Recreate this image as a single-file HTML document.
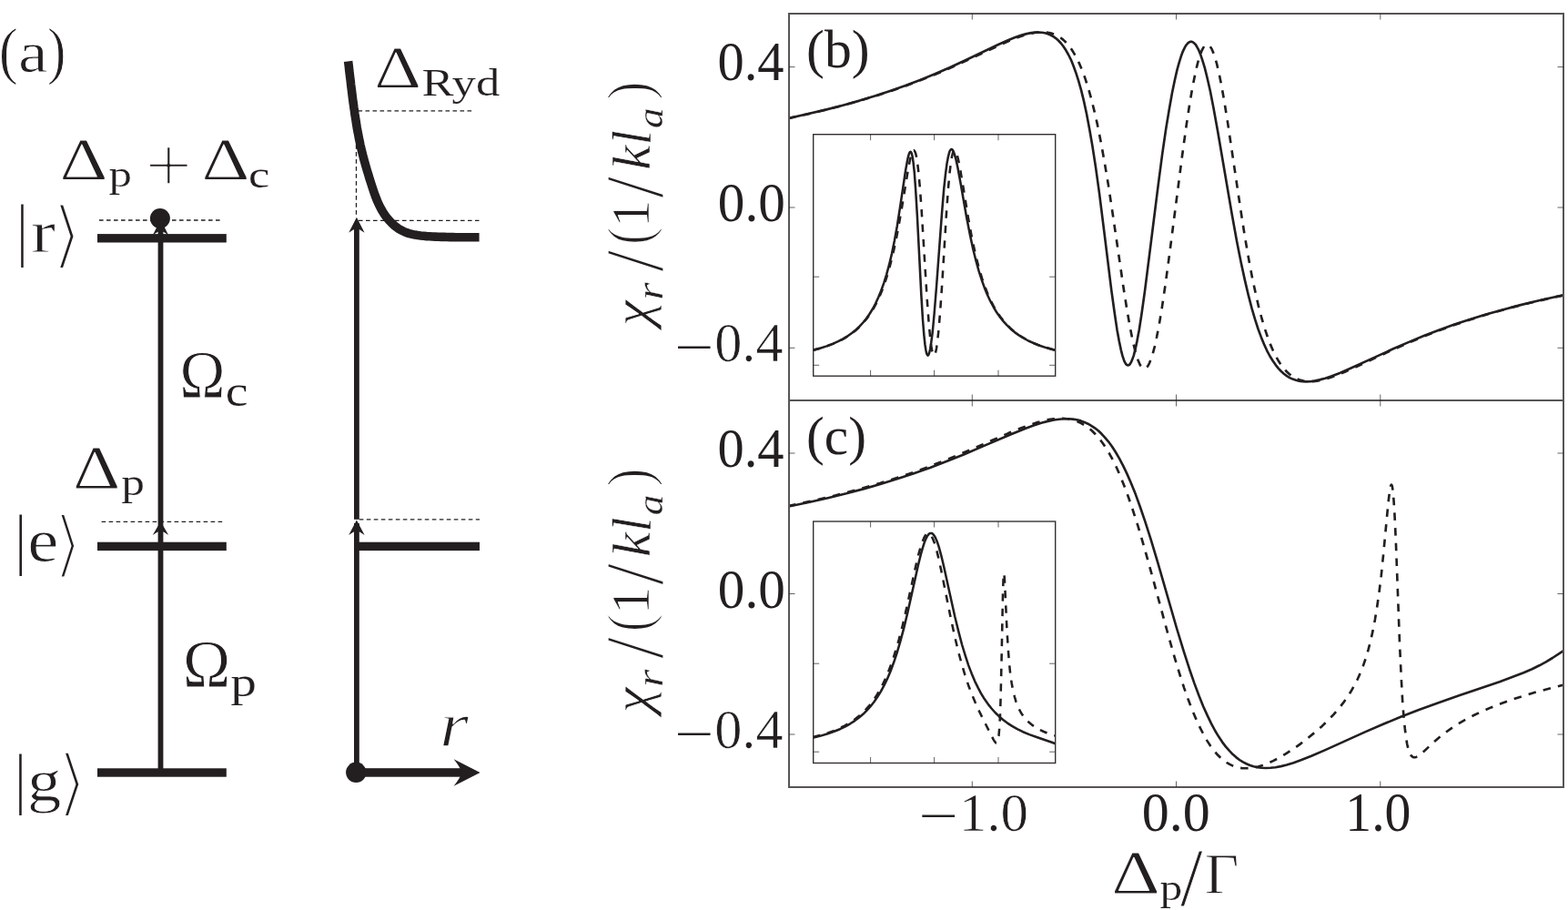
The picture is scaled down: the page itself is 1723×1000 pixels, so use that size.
<!DOCTYPE html>
<html lang="en"><head><meta charset="utf-8"><title>Figure</title>
<style>html,body{margin:0;padding:0;background:#fff;overflow:hidden}svg{display:block}text{white-space:pre}</style></head>
<body>
<svg width="1723" height="1000" viewBox="0 0 1723 1000">
<rect width="1723" height="1000" fill="#fff"/>
<defs><clipPath id="cb"><rect x="867" y="15" width="851" height="425"/></clipPath><clipPath id="cc"><rect x="867" y="440" width="851" height="425"/></clipPath><clipPath id="ib"><rect x="893.7" y="147.7" width="266" height="265.5"/></clipPath><clipPath id="ic"><rect x="893.7" y="573" width="266" height="265.5"/></clipPath></defs>
<g font-family="'Liberation Serif', serif" font-size="100" fill="#231f20">
<g><text transform="matrix(0.6334 0 0 0.7066 -1.28 79.46)" stroke="#fff" stroke-width="1.35" stroke-linejoin="round">(</text><text transform="matrix(0.7335 0 0 0.6257 19.95 78.99)" stroke="#fff" stroke-width="1.33" stroke-linejoin="round">a</text><text transform="matrix(0.6151 0 0 0.7068 51.88 79.46)" stroke="#fff" stroke-width="1.36" stroke-linejoin="round">)</text></g>
<g><text transform="matrix(0.8236 0 0 0.6588 65.42 196.74)" stroke="#fff" stroke-width="1.49" stroke-linejoin="round">Δ</text><text transform="matrix(0.5097 0 0 0.4077 119.40 205.18)" stroke="#fff" stroke-width="0.44" stroke-linejoin="round">p</text><text transform="matrix(0.9234 0 0 0.8949 159.16 211.13)" stroke="#fff" stroke-width="2.64" stroke-linejoin="round">+</text><text transform="matrix(0.8236 0 0 0.6588 221.54 196.74)" stroke="#fff" stroke-width="1.49" stroke-linejoin="round">Δ</text><text transform="matrix(0.5259 0 0 0.4244 272.92 205.97)" stroke="#fff" stroke-width="0.42" stroke-linejoin="round">c</text></g>
<g><text transform="matrix(0.5200 0 0 0.7555 19.30 277.51)">|</text><text transform="matrix(0.8116 0 0 0.6520 34.12 276.65)" stroke="#fff" stroke-width="1.24" stroke-linejoin="round">r</text><text transform="matrix(0.8697 0 0 0.8137 56.48 284.90)" font-family="'DejaVu Sans', sans-serif" stroke="#fff" stroke-width="4.75" stroke-linejoin="round">⟩</text></g>
<g><text transform="matrix(0.5200 0 0 0.7445 17.60 617.24)">|</text><text transform="matrix(0.7690 0 0 0.6844 30.20 616.74)" stroke="#fff" stroke-width="1.24" stroke-linejoin="round">e</text><text transform="matrix(0.8328 0 0 0.8031 58.30 624.57)" font-family="'DejaVu Sans', sans-serif" stroke="#fff" stroke-width="4.89" stroke-linejoin="round">⟩</text></g>
<g><text transform="matrix(0.5200 0 0 0.7500 17.30 880.12)">|</text><text transform="matrix(0.7475 0 0 0.6646 30.10 879.89)" stroke="#fff" stroke-width="1.28" stroke-linejoin="round">g</text><text transform="matrix(0.8704 0 0 0.8079 62.21 887.47)" font-family="'DejaVu Sans', sans-serif" stroke="#fff" stroke-width="4.77" stroke-linejoin="round">⟩</text></g>
<g><text transform="matrix(0.8056 0 0 0.6590 411.37 95.50)" stroke="#fff" stroke-width="1.51" stroke-linejoin="round">Δ</text><text transform="matrix(0.5265 0 0 0.4212 463.57 104.78)" stroke="#fff" stroke-width="0.42" stroke-linejoin="round">Ryd</text></g>
<g><text transform="matrix(0.6776 0 0 0.7311 197.26 436.72)" stroke="#fff" stroke-width="1.28" stroke-linejoin="round">Ω</text><text transform="matrix(0.5591 0 0 0.4805 247.80 445.86)" stroke="#fff" stroke-width="0.39" stroke-linejoin="round">c</text></g>
<g><text transform="matrix(0.8141 0 0 0.6858 80.10 536.00)" stroke="#fff" stroke-width="1.47" stroke-linejoin="round">Δ</text><text transform="matrix(0.5142 0 0 0.4114 133.16 544.35)" stroke="#fff" stroke-width="0.43" stroke-linejoin="round">p</text></g>
<g><text transform="matrix(0.7091 0 0 0.7384 200.84 755.46)" stroke="#fff" stroke-width="1.24" stroke-linejoin="round">Ω</text><text transform="matrix(0.5735 0 0 0.4588 253.25 765.34)" stroke="#fff" stroke-width="0.39" stroke-linejoin="round">p</text></g>
<g><text transform="matrix(0.8235 0 0 0.6922 482.94 819.89)" font-style="italic" stroke="#fff" stroke-width="1.85" stroke-linejoin="round">r</text></g>
<g><text transform="matrix(0.5963 0 0 0.6000 886.07 74.45)">(b)</text></g>
<g><text transform="matrix(0.5946 0 0 0.6022 886.07 499.20)">(c)</text></g>
<g><text transform="matrix(0.5846 0 0 0.6154 788.41 87.83)">0.4</text></g>
<g><text transform="matrix(0.5923 0 0 0.6154 788.78 242.83)">0.0</text></g>
<g><text transform="matrix(0.7634 0 0 0.5200 740.93 398.79)">−</text><text transform="matrix(0.6033 0 0 0.6059 785.19 396.89)" stroke="#fff" stroke-width="0.99" stroke-linejoin="round">0.4</text></g>
<g><text transform="matrix(0.5846 0 0 0.6154 788.41 513.03)">0.4</text></g>
<g><text transform="matrix(0.5923 0 0 0.6154 788.78 668.03)">0.0</text></g>
<g><text transform="matrix(0.7634 0 0 0.5200 740.93 823.99)">−</text><text transform="matrix(0.6033 0 0 0.6059 785.19 822.09)" stroke="#fff" stroke-width="0.99" stroke-linejoin="round">0.4</text></g>
<g><text transform="matrix(0.7688 0 0 0.5200 1009.16 914.29)">−</text><text transform="matrix(0.6098 0 0 0.5970 1053.86 913.15)" stroke="#fff" stroke-width="0.99" stroke-linejoin="round">1.0</text></g>
<g><text transform="matrix(0.6000 0 0 0.6118 1254.75 912.88)">0.0</text></g>
<g><text transform="matrix(0.5778 0 0 0.6118 1478.24 912.88)">1.0</text></g>
<g><text transform="matrix(0.8330 0 0 0.6664 1221.36 980.99)" stroke="#fff" stroke-width="1.48" stroke-linejoin="round">Δ</text><text transform="matrix(0.4960 0 0 0.3968 1274.47 989.16)" stroke="#fff" stroke-width="0.45" stroke-linejoin="round">p</text><text transform="matrix(0.8879 0 0 0.9091 1297.06 994.55)" stroke="#fff" stroke-width="1.00" stroke-linejoin="round">/</text><text transform="matrix(0.6489 0 0 0.6242 1323.84 981.69)" stroke="#fff" stroke-width="1.41" stroke-linejoin="round">Γ</text></g>
<g><text transform="matrix(0 -0.6375 0.5959 0 713.52 358.31)" font-style="italic" stroke="#fff" stroke-width="1.30" stroke-linejoin="round">χ</text><text transform="matrix(0 -0.4974 0.3993 0 728.33 329.86)" font-style="italic" stroke="#fff" stroke-width="0.67" stroke-linejoin="round">r</text><text transform="matrix(0 -0.8528 0.9028 0 727.71 298.58)" stroke="#fff" stroke-width="1.37" stroke-linejoin="round">/</text><text transform="matrix(0 -0.5801 0.6797 0 714.31 269.01)" stroke="#fff" stroke-width="2.23" stroke-linejoin="round">(</text><text transform="matrix(0 -0.5914 0.6001 0 713.30 249.47)" stroke="#fff" stroke-width="1.01" stroke-linejoin="round">1</text><text transform="matrix(0 -0.8528 0.9028 0 727.71 217.58)" stroke="#fff" stroke-width="1.37" stroke-linejoin="round">/</text><text transform="matrix(0 -0.6083 0.6007 0 714.00 186.83)" font-style="italic" stroke="#fff" stroke-width="0.83" stroke-linejoin="round">k</text><text transform="matrix(0 -0.5771 0.6117 0 714.76 159.27)" font-style="italic" stroke="#fff" stroke-width="0.84" stroke-linejoin="round">l</text><text transform="matrix(0 -0.4537 0.3912 0 728.25 141.12)" font-style="italic" stroke="#fff" stroke-width="0.71" stroke-linejoin="round">a</text><text transform="matrix(0 -0.6050 0.6710 0 714.48 109.38)" stroke="#fff" stroke-width="2.20" stroke-linejoin="round">)</text></g>
<g><text transform="matrix(0 -0.6375 0.5959 0 713.52 783.51)" font-style="italic" stroke="#fff" stroke-width="1.30" stroke-linejoin="round">χ</text><text transform="matrix(0 -0.4974 0.3993 0 728.33 755.06)" font-style="italic" stroke="#fff" stroke-width="0.67" stroke-linejoin="round">r</text><text transform="matrix(0 -0.8528 0.9028 0 727.71 723.78)" stroke="#fff" stroke-width="1.37" stroke-linejoin="round">/</text><text transform="matrix(0 -0.5801 0.6797 0 714.31 694.21)" stroke="#fff" stroke-width="2.23" stroke-linejoin="round">(</text><text transform="matrix(0 -0.5914 0.6001 0 713.30 674.67)" stroke="#fff" stroke-width="1.01" stroke-linejoin="round">1</text><text transform="matrix(0 -0.8528 0.9028 0 727.71 642.78)" stroke="#fff" stroke-width="1.37" stroke-linejoin="round">/</text><text transform="matrix(0 -0.6083 0.6007 0 714.00 612.03)" font-style="italic" stroke="#fff" stroke-width="0.83" stroke-linejoin="round">k</text><text transform="matrix(0 -0.5771 0.6117 0 714.76 584.47)" font-style="italic" stroke="#fff" stroke-width="0.84" stroke-linejoin="round">l</text><text transform="matrix(0 -0.4537 0.3912 0 728.25 566.32)" font-style="italic" stroke="#fff" stroke-width="0.71" stroke-linejoin="round">a</text><text transform="matrix(0 -0.6050 0.6710 0 714.48 534.58)" stroke="#fff" stroke-width="2.20" stroke-linejoin="round">)</text></g>
</g>
<rect x="107" y="257.10" width="141.80" height="9.4" fill="#231f20"/>
<rect x="107" y="595.70" width="141.80" height="9.4" fill="#231f20"/>
<rect x="107" y="844.30" width="141.80" height="9.4" fill="#231f20"/>
<rect x="173.60" y="245" width="5.8" height="604.00" fill="#231f20"/>
<path d="M176.5,241 L185.2,258.6 Q180.415,254.85000000000002 176.5,253.60000000000002 Q172.585,254.85000000000002 167.8,258.6 Z" fill="#231f20"/>
<path d="M176.5,572.9 L185.2,587.9 Q180.415,584.15 176.5,582.9 Q172.585,584.15 167.8,587.9 Z" fill="#231f20"/>
<circle cx="175.9" cy="240" r="11" fill="#231f20"/>
<line x1="109" y1="242.0" x2="243.5" y2="242.0" stroke="#231f20" stroke-width="1.3" stroke-dasharray="4.6 3.4"/>
<line x1="111.6" y1="573.4" x2="246.5" y2="573.4" stroke="#231f20" stroke-width="1.3" stroke-dasharray="4.6 3.4"/>
<rect x="392" y="595.70" width="135.00" height="9.4" fill="#231f20"/>
<rect x="389.00" y="245" width="5.8" height="325.80" fill="#231f20"/>
<rect x="389.00" y="575" width="5.8" height="274.00" fill="#231f20"/>
<path d="M391.9,238.7 L400.59999999999997,255.8 Q395.815,252.05 391.9,250.8 Q387.98499999999996,252.05 383.2,255.8 Z" fill="#231f20"/>
<path d="M391.9,571.4 L400.59999999999997,587.9 Q395.815,584.15 391.9,582.9 Q387.98499999999996,584.15 383.2,587.9 Z" fill="#231f20"/>
<circle cx="391.3" cy="848.8" r="11.2" fill="#231f20"/>
<rect x="391" y="844.2" width="118" height="9.5" fill="#231f20"/>
<path d="M527.6,849 L498.6,834.3 Q505,842 507.6,849 Q505,856 498.6,863.7 Z" fill="#231f20"/>
<line x1="393.5" y1="121.9" x2="521" y2="121.9" stroke="#231f20" stroke-width="1.3" stroke-dasharray="4.6 3.4"/>
<line x1="394" y1="242.3" x2="526.5" y2="242.3" stroke="#231f20" stroke-width="1.3" stroke-dasharray="4.6 3.4"/>
<line x1="394.8" y1="570.9" x2="527" y2="570.9" stroke="#231f20" stroke-width="1.3" stroke-dasharray="4.6 3.4"/>
<line x1="391.5" y1="159" x2="391.5" y2="238" stroke="#231f20" stroke-width="1.3" stroke-dasharray="4.8 3.2"/>
<path d="M382.6,67.3 L383.0,70.5 L383.4,73.7 L383.7,76.9 L384.1,80.1 L384.5,83.3 L384.9,86.5 L385.3,89.7 L385.6,92.8 L386.0,96.0 L386.4,99.2 L386.8,102.4 L387.2,105.6 L387.6,108.8 L388.0,112.0 L388.5,115.2 L388.9,118.4 L389.4,121.5 L389.8,124.7 L390.3,127.9 L390.8,131.1 L391.3,134.3 L391.8,137.4 L392.3,140.6 L392.9,143.8 L393.5,146.9 L394.1,150.1 L394.7,153.3 L395.4,156.4 L396.0,159.6 L396.8,162.7 L397.5,165.8 L398.3,168.9 L399.1,172.1 L399.9,175.2 L400.8,178.3 L401.6,181.4 L402.5,184.4 L403.4,187.5 L404.4,190.6 L405.3,193.7 L406.2,196.8 L407.2,199.8 L408.2,202.9 L409.2,206.0 L410.2,209.0 L411.2,212.0 L412.3,215.1 L413.5,218.1 L414.7,221.1 L416.0,224.0 L417.4,226.9 L418.9,229.8 L420.5,232.5 L422.2,235.2 L424.1,237.9 L426.1,240.4 L428.2,242.8 L430.5,245.2 L432.9,247.4 L435.4,249.4 L438.0,251.3 L440.7,252.9 L443.6,254.3 L446.6,255.6 L449.7,256.6 L452.8,257.4 L456.0,258.1 L459.1,258.6 L462.3,259.0 L465.5,259.3 L468.7,259.6 L472.0,259.8 L475.2,260.0 L478.4,260.1 L481.6,260.2 L484.8,260.4 L488.0,260.4 L491.2,260.5 L494.4,260.6 L497.7,260.6 L500.9,260.7 L504.1,260.7 L507.3,260.8 L510.5,260.8 L513.7,260.8 L517.0,260.8 L520.2,260.8 L523.4,260.8 L526.6,260.8" fill="none" stroke="#231f20" stroke-width="9.6" stroke-linejoin="round"/>
<path d="M866.0,130.0 L887.2,125.3 L907.2,120.6 L926.2,115.7 L944.5,110.6 L962.0,105.2 L978.8,99.7 L995.0,94.0 L1011.0,87.9 L1026.8,81.5 L1043.0,74.5 L1060.8,66.3 L1097.5,48.8 L1108.2,44.0 L1116.2,40.8 L1122.8,38.6 L1128.2,37.1 L1133.2,36.1 L1137.5,35.6 L1141.5,35.5 L1145.0,35.7 L1148.2,36.3 L1151.5,37.2 L1154.5,38.5 L1157.5,40.2 L1160.2,42.1 L1163.0,44.5 L1165.8,47.5 L1168.5,51.0 L1171.2,55.1 L1174.0,60.0 L1176.8,65.6 L1179.5,72.2 L1182.2,79.7 L1185.0,88.3 L1188.0,98.9 L1191.0,111.1 L1194.0,125.0 L1197.2,141.9 L1200.5,160.9 L1204.0,183.6 L1208.0,212.4 L1213.2,253.6 L1221.2,318.3 L1224.8,344.3 L1227.5,362.4 L1229.8,375.1 L1231.8,384.6 L1233.5,391.2 L1235.0,395.7 L1236.2,398.4 L1237.2,400.0 L1238.0,400.8 L1238.8,401.3 L1239.5,401.4 L1240.2,401.3 L1241.0,400.8 L1242.0,399.6 L1243.0,397.9 L1244.2,395.1 L1245.8,390.6 L1247.5,383.9 L1249.5,374.6 L1251.8,362.2 L1254.5,344.8 L1258.0,319.9 L1263.2,278.9 L1272.5,204.8 L1277.2,169.2 L1281.2,141.7 L1284.8,120.0 L1288.0,101.9 L1290.8,88.4 L1293.5,76.6 L1295.8,68.3 L1298.0,61.3 L1300.0,56.1 L1301.8,52.4 L1303.2,49.9 L1304.8,48.0 L1306.0,46.8 L1307.2,46.1 L1308.5,45.8 L1309.8,45.9 L1311.0,46.4 L1312.2,47.4 L1313.8,49.0 L1315.2,51.3 L1317.0,54.6 L1319.0,59.4 L1321.2,65.9 L1323.8,74.4 L1326.5,85.2 L1329.8,99.8 L1333.5,118.7 L1338.2,144.8 L1353.5,234.3 L1359.0,264.7 L1363.5,287.6 L1367.8,307.4 L1371.8,324.4 L1375.5,338.7 L1379.0,350.7 L1382.5,361.5 L1385.8,370.4 L1389.0,378.3 L1392.2,385.3 L1395.5,391.5 L1398.8,396.8 L1401.8,401.1 L1404.8,404.8 L1407.8,408.0 L1410.8,410.7 L1414.0,413.1 L1417.2,415.1 L1420.5,416.6 L1424.0,417.8 L1427.5,418.7 L1431.2,419.2 L1435.2,419.4 L1439.8,419.2 L1444.5,418.6 L1450.0,417.4 L1456.2,415.7 L1463.5,413.3 L1472.2,409.9 L1484.0,404.8 L1508.5,393.6 L1531.0,383.3 L1548.8,375.6 L1565.2,368.8 L1581.8,362.5 L1598.2,356.6 L1615.2,351.0 L1632.8,345.6 L1651.0,340.4 L1670.0,335.4 L1690.0,330.5 L1711.2,325.8 L1719.0,324.2" fill="none" stroke="#231f20" stroke-width="2.65" stroke-linejoin="round" clip-path="url(#cb)"/>
<path d="M866.0,130.1 L887.5,125.4 L907.8,120.6 L927.0,115.7 L945.2,110.6 L962.8,105.3 L979.8,99.7 L996.2,93.9 L1012.5,87.8 L1028.8,81.3 L1045.5,74.1 L1064.2,65.6 L1098.8,49.4 L1110.0,44.5 L1118.5,41.1 L1125.5,38.7 L1131.5,37.1 L1136.8,36.0 L1141.2,35.4 L1145.5,35.2 L1149.2,35.4 L1152.8,36.0 L1156.2,36.9 L1159.5,38.1 L1162.5,39.6 L1165.5,41.5 L1168.5,43.9 L1171.5,46.8 L1174.5,50.2 L1177.5,54.3 L1180.5,59.1 L1183.5,64.6 L1186.5,70.9 L1189.5,78.2 L1192.5,86.4 L1195.8,96.6 L1199.0,108.0 L1202.2,120.9 L1205.8,136.4 L1209.5,155.0 L1213.5,177.0 L1217.8,202.6 L1223.0,237.0 L1234.5,315.8 L1238.5,341.2 L1241.8,359.8 L1244.5,373.6 L1246.8,383.3 L1248.8,390.5 L1250.5,395.7 L1252.0,399.3 L1253.2,401.7 L1254.5,403.4 L1255.5,404.4 L1256.5,405.0 L1257.5,405.1 L1258.5,404.9 L1259.5,404.3 L1260.5,403.3 L1261.8,401.5 L1263.2,398.6 L1265.0,394.1 L1266.8,388.5 L1268.8,380.8 L1271.0,370.7 L1273.8,356.3 L1276.8,338.4 L1280.5,313.3 L1285.2,278.5 L1299.0,171.5 L1303.5,138.8 L1307.0,115.7 L1310.0,97.9 L1312.8,83.7 L1315.0,73.6 L1317.0,65.9 L1318.8,60.4 L1320.5,55.8 L1322.0,52.9 L1323.2,51.0 L1324.2,50.0 L1325.2,49.3 L1326.2,49.0 L1327.2,49.2 L1328.2,49.6 L1329.2,50.5 L1330.5,52.2 L1331.8,54.4 L1333.2,57.8 L1335.0,62.8 L1337.0,69.8 L1339.2,79.2 L1342.0,92.6 L1345.2,110.7 L1349.2,135.6 L1356.2,182.9 L1363.5,231.9 L1368.2,261.8 L1372.5,286.4 L1376.2,306.1 L1379.8,322.7 L1383.2,337.7 L1386.5,350.0 L1389.8,361.0 L1393.0,370.7 L1396.0,378.6 L1399.0,385.5 L1402.0,391.6 L1405.0,396.8 L1408.0,401.4 L1411.0,405.2 L1414.0,408.5 L1417.0,411.2 L1420.0,413.5 L1423.0,415.3 L1426.2,416.8 L1429.5,417.9 L1433.0,418.7 L1436.8,419.1 L1440.8,419.2 L1445.0,418.9 L1449.8,418.1 L1455.2,416.9 L1461.5,415.0 L1469.0,412.3 L1478.2,408.5 L1491.5,402.5 L1527.5,385.7 L1545.2,377.8 L1561.8,370.8 L1577.8,364.5 L1594.0,358.5 L1610.5,352.9 L1627.8,347.4 L1645.5,342.2 L1664.0,337.1 L1683.5,332.3 L1704.0,327.5 L1719.0,324.3" fill="none" stroke="#231f20" stroke-width="2.65" stroke-linejoin="round" stroke-dasharray="8.5 8.2" stroke-dashoffset="0" clip-path="url(#cb)"/>
<path d="M866.0,556.7 L888.5,552.0 L909.8,547.2 L930.0,542.3 L949.5,537.1 L968.2,531.7 L986.5,526.1 L1004.2,520.2 L1022.0,513.9 L1040.0,507.0 L1059.0,499.4 L1082.5,489.4 L1112.2,476.7 L1125.8,471.2 L1135.8,467.6 L1144.2,464.8 L1151.5,462.9 L1158.0,461.5 L1163.8,460.7 L1169.0,460.2 L1174.0,460.2 L1178.8,460.6 L1183.2,461.3 L1187.5,462.4 L1191.5,463.9 L1195.5,465.7 L1199.2,467.8 L1203.0,470.3 L1206.8,473.3 L1210.5,476.8 L1214.2,480.8 L1218.0,485.3 L1222.0,490.8 L1226.0,497.0 L1230.0,503.9 L1234.2,511.9 L1238.5,520.9 L1243.0,531.2 L1247.8,543.1 L1253.0,557.5 L1258.5,573.6 L1264.8,593.3 L1272.5,619.1 L1293.2,691.0 L1300.8,715.8 L1307.0,735.2 L1312.5,751.1 L1317.5,764.5 L1322.2,776.2 L1326.8,786.4 L1331.0,795.1 L1335.2,803.0 L1339.2,809.6 L1343.2,815.6 L1347.0,820.6 L1350.8,824.9 L1354.5,828.8 L1358.2,832.1 L1362.0,835.0 L1365.8,837.4 L1369.5,839.3 L1373.5,841.0 L1377.5,842.3 L1381.8,843.2 L1386.2,843.8 L1391.0,844.0 L1396.0,843.8 L1401.5,843.2 L1407.5,842.1 L1414.0,840.5 L1421.5,838.2 L1430.2,835.1 L1441.0,830.8 L1455.8,824.4 L1500.0,804.4 L1520.5,795.5 L1539.8,787.6 L1559.2,780.0 L1580.0,772.4 L1604.8,763.8 L1647.8,749.2 L1663.0,743.6 L1674.2,739.2 L1683.5,735.2 L1691.5,731.3 L1698.8,727.4 L1706.0,723.0 L1718.0,715.2 L1719.0,714.6" fill="none" stroke="#231f20" stroke-width="2.65" stroke-linejoin="round" clip-path="url(#cc)"/>
<path d="M866.0,556.1 L888.2,551.4 L909.2,546.6 L929.2,541.6 L948.5,536.4 L967.0,531.0 L985.0,525.3 L1002.5,519.4 L1019.8,513.2 L1037.2,506.4 L1056.0,498.7 L1079.2,488.7 L1108.0,476.1 L1121.0,470.8 L1130.8,467.1 L1139.0,464.4 L1146.0,462.5 L1152.2,461.1 L1158.0,460.3 L1163.2,459.9 L1168.0,459.9 L1172.5,460.3 L1176.8,461.0 L1180.8,462.1 L1184.8,463.6 L1188.5,465.3 L1192.2,467.5 L1196.0,470.2 L1199.8,473.3 L1203.5,477.0 L1207.2,481.2 L1211.0,486.0 L1214.8,491.5 L1218.8,498.1 L1222.8,505.4 L1226.8,513.5 L1231.0,523.1 L1235.5,534.2 L1240.2,547.0 L1245.2,561.7 L1250.8,579.1 L1257.0,600.2 L1265.0,628.9 L1282.8,694.5 L1290.0,720.1 L1296.0,739.9 L1301.2,756.1 L1306.0,769.6 L1310.5,781.3 L1314.8,791.3 L1318.8,799.9 L1322.8,807.6 L1326.5,814.1 L1330.2,819.8 L1333.8,824.6 L1337.2,828.7 L1340.8,832.3 L1344.2,835.3 L1347.8,837.9 L1351.2,839.9 L1354.8,841.6 L1358.2,842.8 L1361.8,843.7 L1365.5,844.2 L1369.5,844.3 L1373.5,844.1 L1377.8,843.5 L1382.5,842.5 L1387.5,840.9 L1393.0,838.8 L1399.0,836.1 L1405.5,832.7 L1412.8,828.4 L1420.5,823.4 L1428.8,817.6 L1437.2,811.1 L1445.2,804.5 L1452.8,797.9 L1459.5,791.4 L1465.5,785.1 L1471.0,778.7 L1476.0,772.4 L1480.5,766.1 L1484.5,759.8 L1488.2,753.2 L1491.8,746.3 L1495.0,739.0 L1498.0,731.4 L1500.8,723.4 L1503.5,714.2 L1506.0,704.6 L1508.5,693.4 L1511.0,680.4 L1513.2,666.7 L1515.5,650.8 L1517.8,632.2 L1520.2,608.4 L1525.5,552.4 L1526.8,541.7 L1527.5,536.8 L1528.0,534.5 L1528.5,533.1 L1528.8,532.8 L1529.0,532.7 L1529.2,532.9 L1529.5,533.4 L1530.0,535.4 L1530.8,540.9 L1531.5,549.6 L1532.5,566.0 L1533.8,593.4 L1538.0,706.7 L1539.8,745.3 L1541.2,771.1 L1542.5,787.8 L1543.8,800.7 L1545.0,810.4 L1546.2,817.7 L1547.5,823.0 L1548.5,826.1 L1549.5,828.4 L1550.5,830.1 L1551.5,831.2 L1552.5,831.9 L1553.5,832.2 L1554.8,832.3 L1556.2,831.9 L1558.0,831.1 L1560.5,829.3 L1564.2,826.1 L1575.8,815.3 L1582.2,809.8 L1588.8,804.7 L1595.5,799.9 L1602.8,795.2 L1610.5,790.7 L1619.0,786.3 L1628.2,781.8 L1638.5,777.4 L1649.8,773.0 L1662.0,768.6 L1675.5,764.2 L1690.2,759.9 L1706.2,755.6 L1719.0,752.4" fill="none" stroke="#231f20" stroke-width="2.65" stroke-linejoin="round" stroke-dasharray="8.5 8.2" stroke-dashoffset="0" clip-path="url(#cc)"/>
<path d="M893.0,384.9 L901.1,382.7 L908.4,380.4 L915.0,377.9 L921.0,375.2 L926.5,372.3 L931.5,369.3 L936.1,366.0 L940.5,362.4 L944.5,358.7 L948.4,354.5 L952.0,350.0 L955.5,345.0 L958.9,339.5 L962.1,333.5 L965.2,326.8 L968.2,319.5 L971.2,311.1 L974.1,301.8 L977.0,291.2 L979.9,279.1 L982.8,265.1 L985.8,248.5 L989.1,227.4 L995.1,187.2 L996.9,177.2 L998.1,171.6 L999.0,168.8 L999.6,167.4 L1000.1,166.9 L1000.5,166.8 L1000.9,167.0 L1001.4,167.7 L1002.0,169.4 L1002.8,172.8 L1003.6,178.7 L1004.8,189.6 L1006.1,207.7 L1007.9,237.4 L1012.4,325.1 L1014.0,351.3 L1015.4,368.6 L1016.5,379.0 L1017.4,384.7 L1018.1,388.1 L1018.8,389.8 L1019.2,390.4 L1019.6,390.6 L1020.0,390.4 L1020.5,389.6 L1021.2,387.5 L1022.1,383.7 L1023.2,376.8 L1024.8,364.5 L1026.6,345.0 L1029.1,314.0 L1035.0,234.3 L1037.2,207.9 L1039.0,191.1 L1040.5,179.8 L1041.8,172.8 L1042.8,168.7 L1043.6,166.1 L1044.4,164.8 L1045.0,164.2 L1045.5,164.0 L1046.1,164.2 L1046.9,165.0 L1047.8,166.6 L1048.9,169.6 L1050.4,175.0 L1052.4,184.2 L1055.5,201.0 L1062.2,239.3 L1065.9,258.0 L1069.2,273.5 L1072.5,286.7 L1075.6,297.9 L1078.8,307.7 L1081.9,316.4 L1085.1,324.3 L1088.4,331.2 L1091.8,337.5 L1095.2,343.3 L1098.9,348.5 L1102.6,353.2 L1106.5,357.4 L1110.6,361.4 L1115.0,365.1 L1119.6,368.4 L1124.6,371.5 L1130.0,374.5 L1135.9,377.2 L1142.4,379.7 L1149.5,382.1 L1157.5,384.3 L1160.5,385.1" fill="none" stroke="#231f20" stroke-width="2.55" stroke-linejoin="round" clip-path="url(#ib)"/>
<path d="M893.0,384.9 L901.2,382.8 L908.6,380.4 L915.2,377.9 L921.2,375.2 L926.8,372.4 L931.8,369.3 L936.5,366.0 L940.9,362.5 L945.0,358.6 L948.9,354.5 L952.6,349.9 L956.1,345.0 L959.5,339.6 L962.8,333.7 L966.0,327.0 L969.1,319.6 L972.2,311.1 L975.2,301.8 L978.2,291.2 L981.2,279.1 L984.4,264.8 L987.6,247.9 L991.5,225.3 L997.4,189.3 L999.5,178.0 L1001.0,171.5 L1002.1,168.0 L1003.0,166.2 L1003.6,165.5 L1004.1,165.3 L1004.6,165.5 L1005.2,166.3 L1006.0,168.1 L1006.9,171.5 L1007.9,177.2 L1009.1,187.2 L1010.6,203.1 L1012.5,228.4 L1015.6,278.9 L1018.6,327.4 L1020.5,353.0 L1022.0,369.3 L1023.2,379.6 L1024.2,385.4 L1025.0,388.4 L1025.6,389.9 L1026.1,390.5 L1026.5,390.5 L1026.9,390.3 L1027.4,389.5 L1028.1,387.2 L1029.0,383.0 L1030.1,375.2 L1031.5,362.3 L1033.1,342.6 L1035.4,309.4 L1040.1,232.4 L1042.0,206.6 L1043.5,190.0 L1044.8,179.4 L1045.9,172.5 L1046.8,168.7 L1047.5,166.6 L1048.1,165.6 L1048.6,165.2 L1049.1,165.3 L1049.8,165.8 L1050.5,167.0 L1051.5,169.7 L1052.9,174.9 L1054.8,184.1 L1057.8,201.6 L1063.6,237.4 L1067.1,256.7 L1070.2,271.9 L1073.2,284.8 L1076.2,296.2 L1079.2,306.2 L1082.2,314.9 L1085.4,322.9 L1088.5,329.9 L1091.8,336.3 L1095.1,342.0 L1098.6,347.3 L1102.2,352.1 L1106.0,356.4 L1110.0,360.4 L1114.2,364.1 L1118.8,367.5 L1123.6,370.7 L1128.9,373.7 L1134.6,376.5 L1140.9,379.1 L1147.9,381.5 L1155.6,383.8 L1160.5,385.0" fill="none" stroke="#231f20" stroke-width="2.55" stroke-linejoin="round" stroke-dasharray="8.3 8.2" stroke-dashoffset="0" clip-path="url(#ib)"/>
<path d="M893.0,810.7 L901.8,808.6 L909.6,806.2 L916.6,803.8 L923.0,801.2 L928.9,798.3 L934.2,795.3 L939.2,792.1 L944.0,788.5 L948.4,784.8 L952.6,780.6 L956.6,776.2 L960.5,771.3 L964.2,765.9 L967.9,759.9 L971.5,753.2 L975.0,745.9 L978.5,737.7 L982.0,728.3 L985.5,717.9 L989.1,705.7 L993.0,691.2 L997.2,673.6 L1003.5,645.5 L1009.0,620.7 L1012.0,608.6 L1014.4,600.3 L1016.2,594.9 L1017.9,591.1 L1019.2,588.7 L1020.5,587.1 L1021.5,586.3 L1022.5,585.9 L1023.4,585.9 L1024.4,586.3 L1025.5,587.2 L1026.8,588.9 L1028.1,591.4 L1029.8,595.3 L1031.8,601.3 L1034.1,609.8 L1037.2,622.7 L1043.6,651.9 L1049.2,677.3 L1053.4,694.4 L1057.1,708.5 L1060.8,720.6 L1064.2,731.1 L1067.8,740.4 L1071.2,748.6 L1074.8,755.9 L1078.2,762.3 L1081.9,768.3 L1085.6,773.6 L1089.5,778.5 L1093.5,783.0 L1097.8,787.2 L1102.2,791.0 L1107.0,794.6 L1112.1,797.9 L1117.8,801.1 L1124.0,804.2 L1131.0,807.1 L1139.8,810.3 L1155.8,815.8 L1160.5,817.7" fill="none" stroke="#231f20" stroke-width="2.55" stroke-linejoin="round" clip-path="url(#ic)"/>
<path d="M893.0,810.1 L901.5,808.0 L909.1,805.6 L916.0,803.2 L922.2,800.5 L928.0,797.6 L933.4,794.5 L938.4,791.2 L943.0,787.6 L947.4,783.8 L951.5,779.6 L955.5,775.0 L959.4,770.0 L963.1,764.4 L966.8,758.3 L970.2,751.6 L973.8,744.1 L977.2,735.5 L980.8,725.9 L984.2,715.0 L987.9,702.4 L991.8,687.4 L996.1,668.6 L1006.4,621.5 L1009.5,608.6 L1011.9,600.1 L1013.8,594.7 L1015.4,590.9 L1016.8,588.5 L1017.9,587.2 L1018.9,586.5 L1019.8,586.2 L1020.6,586.3 L1021.5,586.8 L1022.5,587.7 L1023.8,589.5 L1025.1,592.3 L1026.8,596.5 L1028.8,603.0 L1031.1,612.4 L1034.2,626.6 L1045.1,681.0 L1049.4,700.6 L1053.1,716.2 L1056.8,729.7 L1060.4,741.9 L1064.0,752.7 L1067.8,762.7 L1071.8,772.3 L1076.4,782.4 L1083.8,797.2 L1091.6,812.6 L1093.2,815.2 L1094.1,816.2 L1094.8,816.5 L1095.2,816.5 L1095.8,816.0 L1096.2,814.9 L1096.9,812.5 L1097.5,808.4 L1098.1,801.5 L1098.9,788.1 L1099.6,766.7 L1100.6,722.8 L1102.0,652.9 L1102.5,637.2 L1102.9,631.3 L1103.0,630.4 L1103.1,630.1 L1103.2,630.2 L1103.5,631.7 L1104.0,638.7 L1106.5,692.6 L1107.8,713.3 L1109.0,728.8 L1110.2,740.4 L1111.6,750.3 L1113.1,758.5 L1114.8,765.3 L1116.5,771.2 L1118.4,776.1 L1120.4,780.4 L1122.6,784.3 L1125.0,787.7 L1127.6,790.9 L1130.6,793.8 L1134.0,796.6 L1137.8,799.2 L1142.0,801.7 L1146.9,804.0 L1152.5,806.3 L1159.0,808.4 L1160.5,808.9" fill="none" stroke="#231f20" stroke-width="2.55" stroke-linejoin="round" stroke-dasharray="8.3 8.2" stroke-dashoffset="0" clip-path="url(#ic)"/>
<rect x="867" y="15" width="851.00" height="425.00" fill="none" stroke="#575455" stroke-width="2.0"/>
<rect x="867" y="440" width="851.00" height="425.00" fill="none" stroke="#575455" stroke-width="2.0"/>
<rect x="893.7" y="147.7" width="266.00" height="265.50" fill="none" stroke="#2e2a2b" stroke-width="1.35"/>
<rect x="893.7" y="573" width="266.00" height="265.50" fill="none" stroke="#2e2a2b" stroke-width="1.35"/>
<line x1="1068.3" y1="15" x2="1068.3" y2="21.5" stroke="#231f20" stroke-width="0.7"/>
<line x1="1068.3" y1="440" x2="1068.3" y2="433.5" stroke="#231f20" stroke-width="0.7"/>
<line x1="1292.5" y1="15" x2="1292.5" y2="21.5" stroke="#231f20" stroke-width="0.7"/>
<line x1="1292.5" y1="440" x2="1292.5" y2="433.5" stroke="#231f20" stroke-width="0.7"/>
<line x1="1516.8" y1="15" x2="1516.8" y2="21.5" stroke="#231f20" stroke-width="0.7"/>
<line x1="1516.8" y1="440" x2="1516.8" y2="433.5" stroke="#231f20" stroke-width="0.7"/>
<line x1="867" y1="73.6" x2="873.5" y2="73.6" stroke="#231f20" stroke-width="0.7"/>
<line x1="1718" y1="73.6" x2="1711.5" y2="73.6" stroke="#231f20" stroke-width="0.7"/>
<line x1="867" y1="228" x2="873.5" y2="228" stroke="#231f20" stroke-width="0.7"/>
<line x1="1718" y1="228" x2="1711.5" y2="228" stroke="#231f20" stroke-width="0.7"/>
<line x1="867" y1="382.3" x2="873.5" y2="382.3" stroke="#231f20" stroke-width="0.7"/>
<line x1="1718" y1="382.3" x2="1711.5" y2="382.3" stroke="#231f20" stroke-width="0.7"/>
<line x1="1068.3" y1="440" x2="1068.3" y2="446.5" stroke="#231f20" stroke-width="0.7"/>
<line x1="1068.3" y1="865" x2="1068.3" y2="858.5" stroke="#231f20" stroke-width="0.7"/>
<line x1="1292.5" y1="440" x2="1292.5" y2="446.5" stroke="#231f20" stroke-width="0.7"/>
<line x1="1292.5" y1="865" x2="1292.5" y2="858.5" stroke="#231f20" stroke-width="0.7"/>
<line x1="1516.8" y1="440" x2="1516.8" y2="446.5" stroke="#231f20" stroke-width="0.7"/>
<line x1="1516.8" y1="865" x2="1516.8" y2="858.5" stroke="#231f20" stroke-width="0.7"/>
<line x1="867" y1="498" x2="873.5" y2="498" stroke="#231f20" stroke-width="0.7"/>
<line x1="1718" y1="498" x2="1711.5" y2="498" stroke="#231f20" stroke-width="0.7"/>
<line x1="867" y1="652.5" x2="873.5" y2="652.5" stroke="#231f20" stroke-width="0.7"/>
<line x1="1718" y1="652.5" x2="1711.5" y2="652.5" stroke="#231f20" stroke-width="0.7"/>
<line x1="867" y1="807" x2="873.5" y2="807" stroke="#231f20" stroke-width="0.7"/>
<line x1="1718" y1="807" x2="1711.5" y2="807" stroke="#231f20" stroke-width="0.7"/>
<line x1="956.6" y1="147.7" x2="956.6" y2="154.2" stroke="#231f20" stroke-width="0.7"/>
<line x1="956.6" y1="413.2" x2="956.6" y2="406.7" stroke="#231f20" stroke-width="0.7"/>
<line x1="1026.6" y1="147.7" x2="1026.6" y2="154.2" stroke="#231f20" stroke-width="0.7"/>
<line x1="1026.6" y1="413.2" x2="1026.6" y2="406.7" stroke="#231f20" stroke-width="0.7"/>
<line x1="1097" y1="147.7" x2="1097" y2="154.2" stroke="#231f20" stroke-width="0.7"/>
<line x1="1097" y1="413.2" x2="1097" y2="406.7" stroke="#231f20" stroke-width="0.7"/>
<line x1="893.7" y1="304.2" x2="900.2" y2="304.2" stroke="#231f20" stroke-width="0.7"/>
<line x1="1159.7" y1="304.2" x2="1153.2" y2="304.2" stroke="#231f20" stroke-width="0.7"/>
<line x1="893.7" y1="401.3" x2="900.2" y2="401.3" stroke="#231f20" stroke-width="0.7"/>
<line x1="1159.7" y1="401.3" x2="1153.2" y2="401.3" stroke="#231f20" stroke-width="0.7"/>
<line x1="956.6" y1="573" x2="956.6" y2="579.5" stroke="#231f20" stroke-width="0.7"/>
<line x1="956.6" y1="838.5" x2="956.6" y2="832.0" stroke="#231f20" stroke-width="0.7"/>
<line x1="1026.6" y1="573" x2="1026.6" y2="579.5" stroke="#231f20" stroke-width="0.7"/>
<line x1="1026.6" y1="838.5" x2="1026.6" y2="832.0" stroke="#231f20" stroke-width="0.7"/>
<line x1="1097" y1="573" x2="1097" y2="579.5" stroke="#231f20" stroke-width="0.7"/>
<line x1="1097" y1="838.5" x2="1097" y2="832.0" stroke="#231f20" stroke-width="0.7"/>
<line x1="893.7" y1="729.2" x2="900.2" y2="729.2" stroke="#231f20" stroke-width="0.7"/>
<line x1="1159.7" y1="729.2" x2="1153.2" y2="729.2" stroke="#231f20" stroke-width="0.7"/>
<line x1="893.7" y1="826.2" x2="900.2" y2="826.2" stroke="#231f20" stroke-width="0.7"/>
<line x1="1159.7" y1="826.2" x2="1153.2" y2="826.2" stroke="#231f20" stroke-width="0.7"/>
</svg>
</body></html>
